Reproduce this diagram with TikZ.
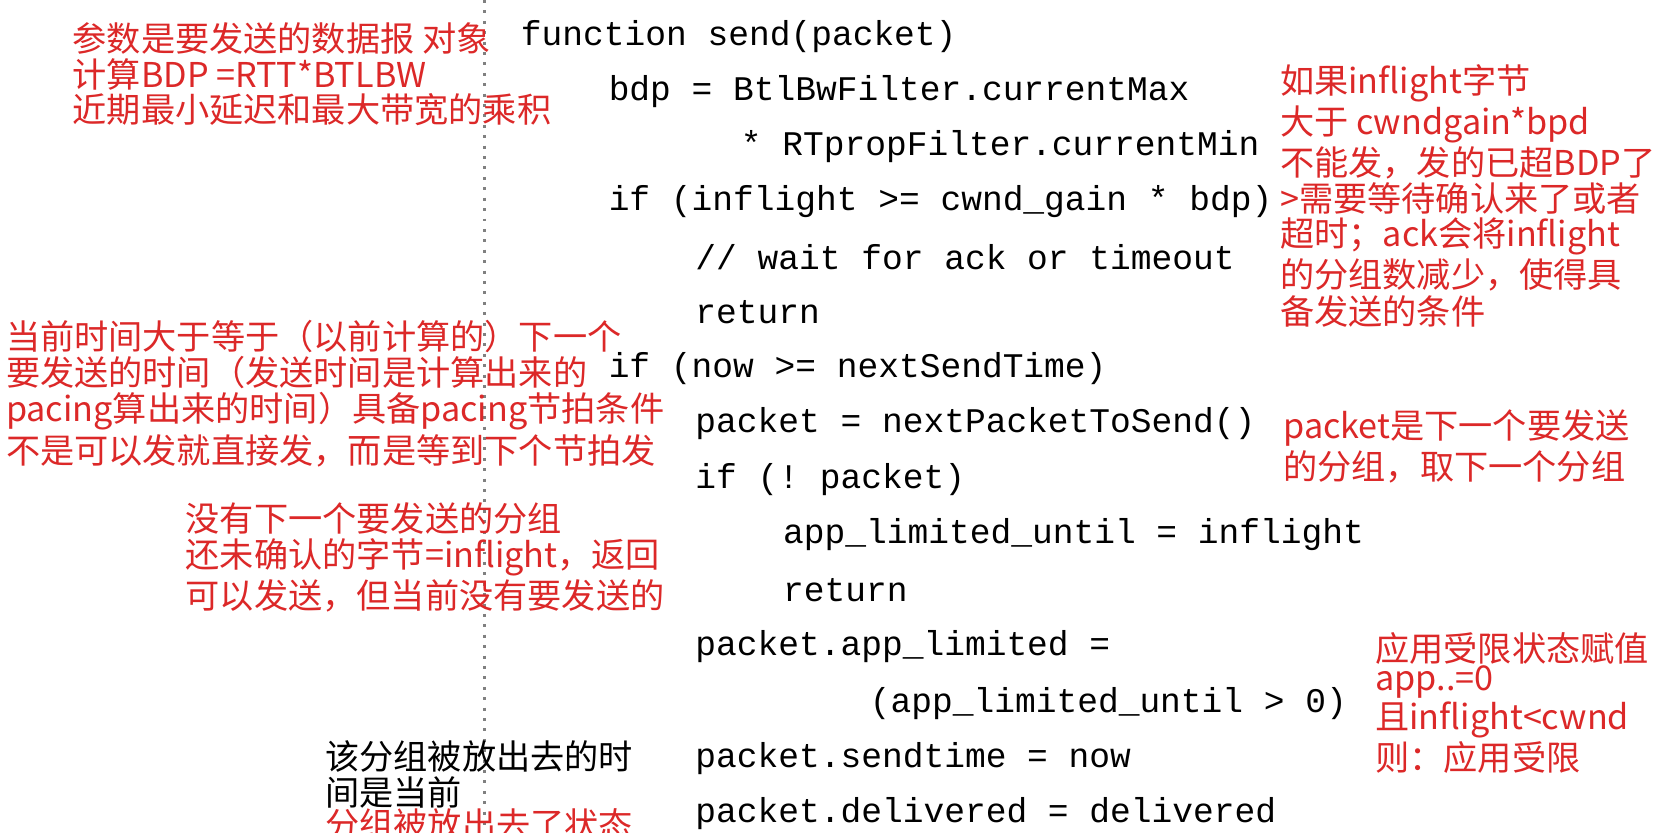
\documentclass[tikz,border=0pt]{standalone}
\usepackage{fontspec}
\setmonofont{Liberation Mono}
\newfontfamily\cjk{Noto Sans CJK SC}
\definecolor{anno}{RGB}{220,40,40}
\tikzset{
 code/.style={anchor=west,inner sep=0pt,font=\fontsize{9.3}{11}\ttfamily},
 note/.style={anchor=north west,inner sep=0pt,align=left,text=anno,font=\cjk\fontsize{9.2}{7.9}\selectfont},
 notek/.style={note,text=black}
}
\begin{document}
\begin{tikzpicture}[x=0.1mm,y=-0.1mm]
\path[use as bounding box,clip] (0,0) rectangle (1568,787);
\fill[white] (0,0) rectangle (1568,787);
\draw[gray,dotted,thick] (458,0) -- (458,787);
\node[code] (c1) at (492,35) {function send(packet)};
\node[code] (c2) at (575,87) {bdp = BtlBwFilter.currentMax};
\node[code] (c3) at (700,139) {* RTpropFilter.currentMin};
\node[code] (c4) at (575,191) {if (inflight >= cwnd\_gain * bdp)};
\node[code] (c5) at (657,243) {// wait for ack or timeout};
\node[code] (c6) at (657,295) {return};
\node[code] (c7) at (575,349) {if (now >= nextSendTime)};
\node[code] (c8) at (657,401) {packet = nextPacketToSend()};
\node[code] (c9) at (657,454) {if (! packet)};
\node[code] (c10) at (740,506) {app\_limited\_until = inflight};
\node[code] (c11) at (740,558) {return};
\node[code] (c12) at (657,611) {packet.app\_limited =};
\node[code] (c13) at (822,665) {(app\_limited\_until > 0)};
\node[code] (c14) at (657,717) {packet.sendtime = now};
\node[code] (c15) at (657,769) {packet.delivered = delivered};
\node[note] (n1) at (68,21) {参数是要发送的数据报 对象\\计算BDP =RTT*BTLBW\\近期最小延迟和最大带宽的乘积};
\node[note] (n2) at (1210,60) {如果inflight字节\\大于 cwndgain*bpd\\不能发，发的已超BDP了\\>需要等待确认来了或者\\超时；ack会将inflight\\的分组数减少，使得具\\备发送的条件};
\node[note] (n3) at (5,302) {当前时间大于等于（以前计算的）下一个\\要发送的时间（发送时间是计算出来的\\pacing算出来的时间）具备pacing节拍条件\\不是可以发就直接发，而是等到下个节拍发};
\node[note] (n4) at (1213,387) {packet是下一个要发送\\的分组，取下一个分组};
\node[note] (n5) at (175,475) {没有下一个要发送的分组\\还未确认的字节=inflight，返回\\可以发送，但当前没有要发送的};
\node[note] (n6) at (1300,597) {应用受限状态赋值\\app..=0\\且inflight<cwnd\\则：应用受限};
\node[notek] (n7) at (307,700) {该分组被放出去的时\\间是当前};
\node[note] (n8) at (307,764) {分组被放出去了状态};
\end{tikzpicture}
\end{document}
